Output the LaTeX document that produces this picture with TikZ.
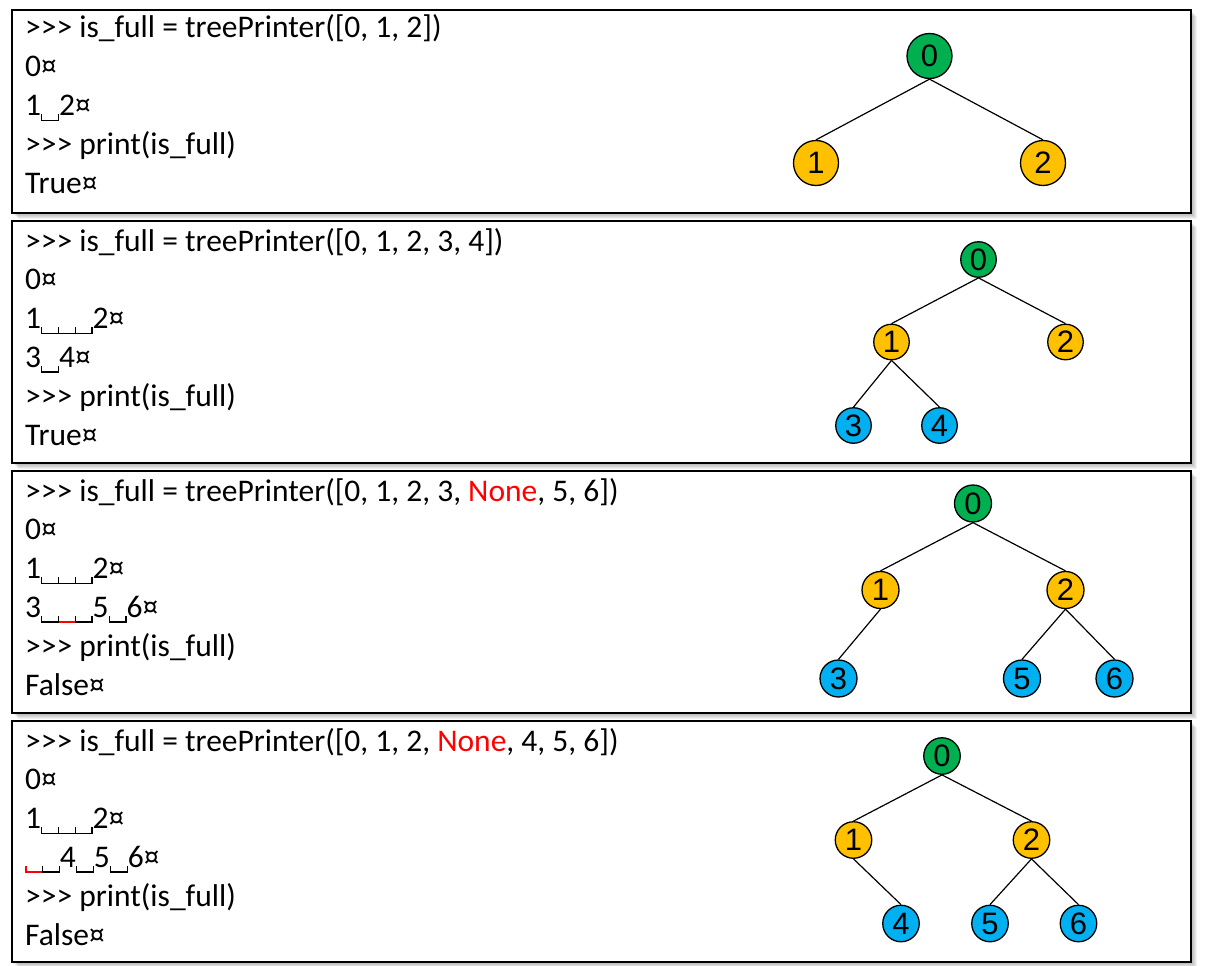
\documentclass[tikz,border=0pt]{standalone}
\usepackage{fontspec}
\setmainfont{Carlito}
\newfontfamily\arialf{Liberation Sans}
\definecolor{cgreen}{HTML}{00B050}
\definecolor{cyellow}{HTML}{FFC000}
\definecolor{cblue}{HTML}{00B0F0}
\definecolor{cred}{HTML}{FF0000}
% prompt without the >> ligature
\newcommand\prompt{>\kern0pt>\kern0pt>}
% visible-space markers
\newcommand\vsbox[2]{\textcolor{#1}{\rule[-5pt]{1.3pt}{7pt}}\textcolor{#2}{\rule[-5pt]{15.4pt}{1.3pt}}}
\newcommand\vsb{\vsbox{black}{black}}
\newcommand\vsr{\vsbox{black}{cred}}
\newcommand\vsrr{\vsbox{cred}{cred}}
\newcommand\vse{\rule[-5pt]{1.3pt}{7pt}}
\newcommand\panelbox[2]{%
  \foreach \s in {1,...,6}{\fill[black,opacity=0.055] (12+\s,#1+\s) rectangle (1191+\s,#2+\s);}
  \fill[white] (12,#1) rectangle (1191,#2);
  \draw[line width=1.3pt] (12,#1) rectangle (1191,#2);}
\tikzset{
  txt/.style={anchor=base west, inner sep=0pt, font=\fontsize{31.5}{37}\selectfont},
  tn/.style={circle, draw=black, line width=1.3pt, inner sep=0pt, font=\arialf\fontsize{31}{31}\selectfont},
  bigtn/.style={tn, minimum size=45pt},
  smtn/.style={tn, minimum size=36pt},
  gn/.style={fill=cgreen}, yl/.style={fill=cyellow}, bl/.style={fill=cblue},
  edge/.style={line width=1.2pt}
}
\begin{document}
\begin{tikzpicture}[x=1pt,y=-1pt]
\useasboundingbox (0,0) rectangle (1211,966);
\panelbox{10}{213}
\panelbox{221}{463}
\panelbox{471}{713}
\panelbox{721}{962}
% ---- panel 1 text
\node[txt] (t11) at (25,38) {\prompt{} is\_full = treePrinter([0, 1, 2])};
\node[txt] (t12) at (25,76.9) {0¤};
\node[txt] (t13) at (25,115.8) {1\vsb\vse2¤};
\node[txt] (t14) at (25,154.7) {\prompt{} print(is\_full)};
\node[txt] (t15) at (25,193.6) {True¤};
% ---- panel 2 text
\node[txt] (t21) at (25,251) {\prompt{} is\_full = treePrinter([0, 1, 2, 3, 4])};
\node[txt] (t22) at (25,289.9) {0¤};
\node[txt] (t23) at (25,328.8) {1\vsb\vsb\vsb\vse2¤};
\node[txt] (t24) at (25,367.7) {3\vsb\vse4¤};
\node[txt] (t25) at (25,406.6) {\prompt{} print(is\_full)};
\node[txt] (t26) at (25,445.5) {True¤};
% ---- panel 3 text
\node[txt] (t31) at (25,501) {\prompt{} is\_full = treePrinter([0, 1, 2, 3, \textcolor{cred}{None}, 5, 6])};
\node[txt] (t32) at (25,539.9) {0¤};
\node[txt] (t33) at (25,578.8) {1\vsb\vsb\vsb\vse2¤};
\node[txt] (t34) at (25,617.7) {3\vsb\vsr\vsb\vse5\vsb\vse6¤};
\node[txt] (t35) at (25,656.6) {\prompt{} print(is\_full)};
\node[txt] (t36) at (25,695.5) {False¤};
% ---- panel 4 text
\node[txt] (t41) at (25,751) {\prompt{} is\_full = treePrinter([0, 1, 2, \textcolor{cred}{None}, 4, 5, 6])};
\node[txt] (t42) at (25,789.9) {0¤};
\node[txt] (t43) at (25,828.8) {1\vsb\vsb\vsb\vse2¤};
\node[txt] (t44) at (25,867.7) {\vsrr\vsb\vse4\vsb\vse5\vsb\vse6¤};
\node[txt] (t45) at (25,906.6) {\prompt{} print(is\_full)};
\node[txt] (t46) at (25,945.5) {False¤};
% ---- tree 1
\node[bigtn,gn] (a0) at (929.5,56) {0};
\node[bigtn,yl] (a1) at (816,163) {1};
\node[bigtn,yl] (a2) at (1043,163) {2};
\draw[edge] (a0.south) -- (a1.north);
\draw[edge] (a0.south) -- (a2.north);
% ---- tree 2
\begin{scope}[every node/.style={smtn, minimum size=35.5pt}]
\node[gn] (b0) at (978.5,259.5) {0};
\node[yl] (b1) at (891.5,342) {1};
\node[yl] (b2) at (1065.5,342) {2};
\node[bl] (b3) at (853.5,425.5) {3};
\node[bl] (b4) at (939.5,425.5) {4};
\end{scope}
\draw[edge] (b0.south) -- (b1.north);
\draw[edge] (b0.south) -- (b2.north);
\draw[edge] (b1.south) -- (b3.north);
\draw[edge] (b1.south) -- (b4.north);
% ---- tree 3
\begin{scope}[every node/.style={smtn, minimum size=37pt}]
\node[gn] (c0) at (973,503.5) {0};
\node[yl] (c1) at (880.5,590) {1};
\node[yl] (c2) at (1065.5,590) {2};
\node[bl] (c3) at (838.5,678.5) {3};
\node[bl] (c5) at (1022,678.5) {5};
\node[bl] (c6) at (1114.5,678.5) {6};
\end{scope}
\draw[edge] (c0.south) -- (c1.north);
\draw[edge] (c0.south) -- (c2.north);
\draw[edge] (c1.south) -- (c3.north);
\draw[edge] (c2.south) -- (c5.north);
\draw[edge] (c2.south) -- (c6.north);
% ---- tree 4
\begin{scope}[every node/.style={smtn, minimum size=36.5pt}]
\node[gn] (d0) at (942,756) {0};
\node[yl] (d1) at (853.5,840) {1};
\node[yl] (d2) at (1031.5,840) {2};
\node[bl] (d4) at (901,923.5) {4};
\node[bl] (d5) at (990,923.5) {5};
\node[bl] (d6) at (1078.5,923.5) {6};
\end{scope}
\draw[edge] (d0.south) -- (d1.north);
\draw[edge] (d0.south) -- (d2.north);
\draw[edge] (d1.south) -- (d4.north);
\draw[edge] (d2.south) -- (d5.north);
\draw[edge] (d2.south) -- (d6.north);
\end{tikzpicture}
\end{document}
